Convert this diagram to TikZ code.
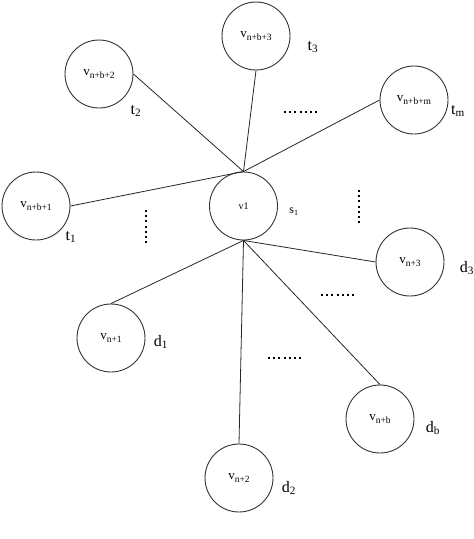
\documentclass[tikz,border=0pt]{standalone}
\usepackage{fontspec}
\setmainfont{Liberation Serif}
\begin{document}
\begin{tikzpicture}[x=1pt,y=-1pt,
  vert/.style={circle,draw=black!80,line width=0.9pt,minimum size=68pt,inner sep=0pt,font=\fontsize{13}{13}\selectfont},
  edge/.style={draw=black!85,line width=0.8pt},
  lab/.style={font=\fontsize{16}{16}\selectfont,inner sep=0pt},
  dotsty/.style={line width=2pt,dash pattern=on 2pt off 3.2pt,draw=black}]
\useasboundingbox (0,0) rectangle (474,539);
\newcommand{\vs}[1]{v\raisebox{-3pt}{\fontsize{9.5}{9.5}\selectfont #1}}
\node[vert] (v1) at (243.5,206) {\fontsize{10}{10}\selectfont v1};
\node[vert] (b3) at (256,36) {\vs{n+b+3}};
\node[vert] (bm) at (414,100) {\vs{n+b+m}};
\node[vert] (b2) at (99,74) {\vs{n+b+2}};
\node[vert] (b1) at (36,206) {\vs{n+b+1}};
\node[vert] (n3) at (410,262) {\vs{n+3}};
\node[vert] (n1) at (111,338) {\vs{n+1}};
\node[vert] (n2) at (239,478) {\vs{n+2}};
\node[vert] (nb) at (380,419) {\vs{n+b}};
\draw[edge] (b2.east) -- (v1.north);
\draw[edge] (b1.east) -- (v1.north);
\draw[edge] (b3.south) -- (v1.north);
\draw[edge] (bm.west) -- (v1.north);
\draw[edge] (v1.south) -- (n3.west);
\draw[edge] (v1.south) -- (n1.north);
\draw[edge] (v1.south) -- (n2.north);
\draw[edge] (v1.south) -- (nb.north);
\node[lab] (lt2) at (136,111) {t\textsubscript{2}};
\node[lab] (lt3) at (313,47) {t\textsubscript{3}};
\node[lab,anchor=west] (ltm) at (451,111) {t\textsubscript{m}};
\node[lab] (lt1) at (71,237) {t\textsubscript{1}};
\node[lab,font=\fontsize{12}{12}\selectfont] (ls1) at (294,212) {s\textsubscript{1}};
\node[lab] (ld3) at (467,268) {d\textsubscript{3}};
\node[lab] (ld1) at (161,342) {d\textsubscript{1}};
\node[lab] (ld2) at (289,488) {d\textsubscript{2}};
\node[lab] (ldb) at (433,428) {d\textsubscript{b}};
\coordinate (dA1) at (146,210); \coordinate (dA2) at (146,245);
\coordinate (dB1) at (359,190); \coordinate (dB2) at (359,225);
\coordinate (dC1) at (284,112); \coordinate (dC2) at (319,112);
\coordinate (dD1) at (321,295); \coordinate (dD2) at (356,295);
\coordinate (dE1) at (268,358); \coordinate (dE2) at (303,358);
\draw[dotsty] (dA1) -- (dA2);
\draw[dotsty] (dB1) -- (dB2);
\draw[dotsty] (dC1) -- (dC2);
\draw[dotsty] (dD1) -- (dD2);
\draw[dotsty] (dE1) -- (dE2);
\end{tikzpicture}
\end{document}
